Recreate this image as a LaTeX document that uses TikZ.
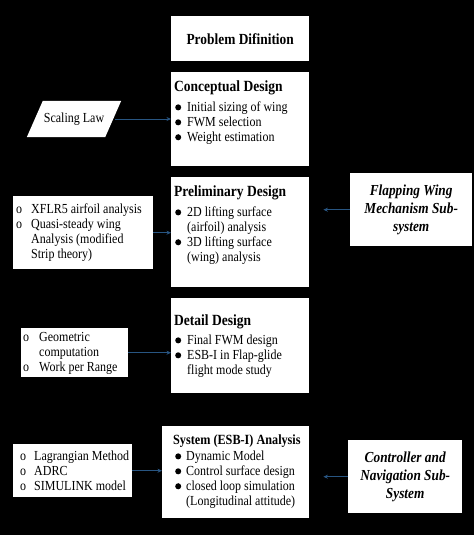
\documentclass[tikz,border=0pt]{standalone}
\usepackage{fontspec}
\setmainfont{Liberation Serif}
\usetikzlibrary{arrows.meta}
\definecolor{arrowblue}{RGB}{40,85,130}
\newcommand{\vs}[1]{\scalebox{1}[1.15]{#1}}
\newcommand{\bl}{\tikz[baseline=0pt]\fill[black] (3pt,3.3pt) ellipse[x radius=3pt, y radius=2.65pt];}
\newcommand{\ol}{o}
\newcommand{\blst}[2]{\scalebox{1}[1.15]{\fontsize{12}{13}\selectfont\begin{tabular}{@{}p{#1}@{}l@{}}#2\end{tabular}}}
\begin{document}
\begin{tikzpicture}[x=1pt,y=-1pt,
  box/.style={fill=white, draw=none, anchor=north west, inner sep=0pt},
  title/.style={anchor=base west, inner sep=0pt, font=\fontsize{13.5}{15}\selectfont\bfseries},
  lst/.style={anchor=north west, inner sep=0pt},
  side/.style={align=center, inner sep=0pt, font=\fontsize{13.3}{18}\selectfont\bfseries\itshape},
  arr/.style={draw=arrowblue, line width=0.8pt, -{Stealth[length=4.5pt,width=4pt]}}]
\useasboundingbox (0,0) rectangle (474,535);
\fill[black] (0,0) rectangle (474,535);
% boxes
\node[box, minimum width=138pt, minimum height=45pt] (prob) at (171,16) {};
\node[box, minimum width=138pt, minimum height=94pt] (concept) at (171,72) {};
\node[box, minimum width=138pt, minimum height=110pt] (prelim) at (171,177) {};
\node[box, minimum width=138pt, minimum height=95pt] (detail) at (171,298) {};
\node[box, minimum width=147pt, minimum height=92pt] (system) at (162,426) {};
\node[box, minimum width=140pt, minimum height=73pt] (xflr) at (13,196) {};
\node[box, minimum width=107pt, minimum height=49pt] (geom) at (21,328) {};
\node[box, minimum width=119pt, minimum height=53pt] (lagr) at (13,444) {};
\node[box, minimum width=122pt, minimum height=73pt] (flap) at (350,173) {};
\node[box, minimum width=114pt, minimum height=73pt] (ctrl) at (348,440) {};
% scaling law parallelogram
\node[inner sep=0pt, minimum width=94pt, minimum height=36pt] (scal) at (74,119) {};
\fill[white] ([xshift=16pt]scal.north west) -- (scal.north east) -- ([xshift=-16pt]scal.south east) -- (scal.south west) -- cycle;
\node[inner sep=0pt, font=\fontsize{12}{15}\selectfont] (scaltxt) at (scal.center) {\vs{Scaling Law}};
% texts
\node[inner sep=0pt, font=\fontsize{13.4}{15}\selectfont\bfseries] (probt) at (prob.center) {\vs{Problem Difinition}};
\node[title] (conct) at (174,92) {\vs{Conceptual Design}};
\node[lst] (concl) at (175,100.5) {\blst{12pt}{\bl & Initial sizing of wing\\ \bl & FWM selection\\ \bl & Weight estimation}};
\node[title] (prelt) at (174,196) {\vs{Preliminary Design}};
\node[lst] (prell) at (175,205.5) {\blst{12pt}{\bl & 2D lifting surface\\ & (airfoil) analysis\\ \bl & 3D lifting surface\\ & (wing) analysis}};
\node[title] (dett) at (174,325) {\vs{Detail Design}};
\node[lst] (detl) at (175,333.5) {\blst{12pt}{\bl & Final FWM design\\ \bl & ESB-I in Flap-glide\\ & flight mode study}};
\node[title, font=\fontsize{12.2}{15}\selectfont\bfseries] (syst) at (173,444) {\vs{System (ESB-I) Analysis}};
\node[lst] (sysl) at (175,449.5) {\blst{11pt}{\bl & Dynamic Model\\ \bl & Control surface design\\ \bl & closed loop simulation\\ & (Longitudinal attitude)}};
\node[lst] (xflrl) at (16,202.5) {\blst{15pt}{\ol & XFLR5 airfoil analysis\\ \ol & Quasi-steady wing\\ & Analysis (modified\\ & Strip theory)}};
\node[lst] (geoml) at (23,330.5) {\blst{16pt}{\ol & Geometric\\ & computation\\ \ol & Work per Range}};
\node[lst] (lagrl) at (20,449.5) {\blst{14pt}{\ol & Lagrangian Method\\ \ol & ADRC\\ \ol & SIMULINK model}};
\node[side] (flapt) at (flap.center) {\vs{Flapping Wing}\\\vs{Mechanism Sub-}\\\vs{system}};
\node[side] (ctrlt) at (ctrl.center) {\vs{Controller and}\\\vs{Navigation Sub-}\\\vs{System}};
% arrows
\draw[arr] ([xshift=-6pt]scal.east) -- (concept.west |- scal.east);
\draw[arr] (xflr.east) -- (prelim.west |- xflr.east);
\draw[arr] (geom.east) -- (detail.west |- geom.east);
\draw[arr] (lagr.east) -- (system.west |- lagr.east);
\draw[arr, shorten >=14pt] (flap.west) -- (prelim.east |- flap.west);
\draw[arr, shorten >=14pt] (ctrl.west) -- (system.east |- ctrl.west);
\end{tikzpicture}
\end{document}
